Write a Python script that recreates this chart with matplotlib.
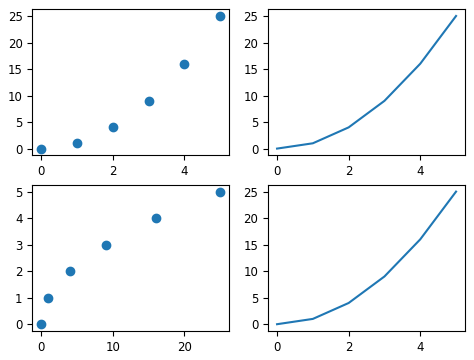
import matplotlib
matplotlib.use("Agg")
from matplotlib import pyplot as plt

x = [0, 1, 2, 3, 4, 5]
y = [0, 1, 4, 9, 16, 25]

plt.rcParams["font.size"] = 8.5

fig, axs = plt.subplots(2, 2, figsize=(4.74, 3.6), dpi=100)
axs[0, 0].scatter(x, y)
axs[0, 1].plot(x, y)
axs[1, 0].scatter(y, x)
axs[1, 1].plot(x, y)
fig.subplots_adjust(left=0.068, right=0.981, top=0.974, bottom=0.081,
                    wspace=0.198, hspace=0.204)
fig.savefig("out.png")
